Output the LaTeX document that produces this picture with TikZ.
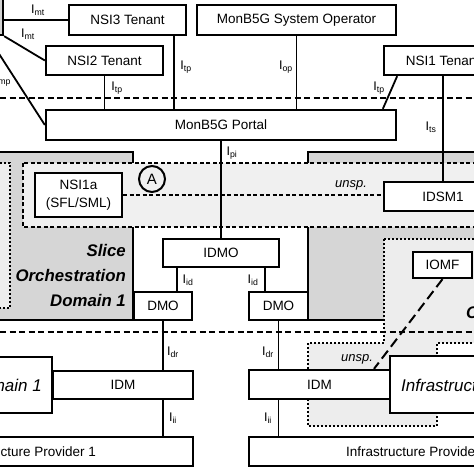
\documentclass[tikz,border=0pt]{standalone}
\usepackage{fontspec}
\setmainfont{Liberation Sans}
\newcommand\Isub[1]{I\textsubscript{#1}}
\definecolor{domgray}{gray}{0.84}
\definecolor{nsiA}{gray}{0.94}
\definecolor{nsiB}{gray}{0.93}
\begin{document}
\begin{tikzpicture}[x=1pt,y=-1pt,
  box/.style={draw, line width=2.3pt, fill=white, inner sep=0pt, font=\fontsize{13.5}{16}\selectfont},
  conn/.style={line width=1.8pt},
  lbl/.style={inner sep=0pt, font=\fontsize{12.5}{13}\selectfont},
  sepline/.style={line width=1.8pt, dash pattern=on 6pt off 3.5pt},
  dashA/.style={line width=1.8pt, dash pattern=on 4pt off 2.5pt},
  dotB/.style={line width=1.8pt, dash pattern=on 2pt off 2pt},
  longdash/.style={line width=2pt, dash pattern=on 10pt off 5pt},
  domline/.style={line width=2.3pt},
  ital/.style={font=\fontsize{17}{20}\selectfont\itshape, inner sep=0pt},
  unsp/.style={inner sep=0pt, font=\fontsize{13}{14}\selectfont\itshape},
]
\useasboundingbox (0,0) rectangle (474,474);
\clip (0,0) rectangle (474,474);
\fill[white] (0,0) rectangle (474,474);

% orchestration domains (gray)
\draw[domline, fill=domgray] (-20,152) -- (133,152) -- (133,320) -- (-20,320);
\draw[domline, fill=domgray] (540,152) -- (308,152) -- (308,320) -- (540,320);

% NSI regions
\draw[dashA, fill=nsiA] (23,163) rectangle (540,227);
\draw[dotB, fill=nsiB] (-20,163) rectangle (10,308);
\draw[dotB, fill=nsiB] (384,239) -- (540,239) -- (540,343) -- (437,343) -- (437,426)
  -- (308,426) -- (308,343) -- (384,343) -- cycle;

% level separators
\coordinate (sepL1) at (0,98);  \coordinate (sepR1) at (474,98);
\coordinate (sepL2) at (0,332); \coordinate (sepR2) at (474,332);
\draw[sepline] (sepL1) -- (sepR1);
\draw[sepline] (sepL2) -- (sepR2);

% boxes
\node[box, fill=gray!35, minimum width=60pt, minimum height=45pt] (tl) at (-27,12.5) {};
\node[box, minimum width=117pt, minimum height=30pt] (nsi3) at (127.5,20) {NSI3 Tenant};
\node[box, minimum width=199pt, minimum height=30pt] (op) at (296.5,20) {MonB5G System Operator};
\node[box, minimum width=117pt, minimum height=29pt] (nsi2) at (104.5,60.5) {NSI2 Tenant};
\node[box, minimum width=118pt, minimum height=29pt] (nsi1) at (443,60.5) {NSI1 Tenant};
\node[box, minimum width=350pt, minimum height=30pt] (portal) at (221,125) {MonB5G Portal};
\node[box, minimum width=87pt, minimum height=44pt, align=center] (nsi1a) at (78.5,195) {NSI1a\\[2pt](SFL/SML)};
\node[box, minimum width=118pt, minimum height=29pt] (idsm) at (443,196.5) {IDSM1};
\node[box, minimum width=116pt, minimum height=28pt] (idmo) at (221,253) {IDMO};
\node[box, minimum width=58pt, minimum height=28pt] (dmol) at (163,306) {DMO};
\node[box, minimum width=59pt, minimum height=28pt] (dmor) at (278.5,306) {DMO};
\node[box, minimum width=59pt, minimum height=26pt] (iomf) at (442.5,265) {IOMF};
\node[box, minimum width=202pt, minimum height=56pt] (infd1) at (-49,385) {};
\node[box, minimum width=210pt, minimum height=57pt] (infd2) at (495,384.5) {};
\node[box, minimum width=140pt, minimum height=28pt] (idml) at (123,385) {IDM};
\node[box, minimum width=141pt, minimum height=29pt] (idmr) at (319.5,384.5) {IDM};
\node[box, minimum width=339pt, minimum height=29pt] (prov1) at (23.5,451.5) {Infrastructure Provider 1};
\node[box, minimum width=339pt, minimum height=29pt] (prov2) at (418.5,451.5) {Infrastructure Provider 2};

\node[ital, anchor=east] (infd1t) at (42,385) {Infrastructure Domain 1};
\node[ital, anchor=west] (infd2t) at (401,385) {Infrastructure Domain 2};
\node[anchor=east, align=right, inner sep=0pt, font=\fontsize{16.8}{25}\selectfont\bfseries\itshape] (sod1) at (126,275) {Slice\\Orchestration\\Domain 1};
\node[anchor=west, inner sep=0pt, font=\fontsize{16.8}{20}\selectfont\bfseries\itshape] (sod2) at (466,313) {C};

\node[draw, circle, line width=2pt, minimum size=26pt, inner sep=0pt, font=\fontsize{15}{16}\selectfont] (cA) at (152,179) {A};

% helper coordinates
\coordinate (x174) at (174,0);
\coordinate (x177) at (177,0);
\coordinate (x265) at (265,0);
\coordinate (x374) at (374,0);
\coordinate (mpstart) at (-10,39.8);

% connectors
\draw[conn] (nsi3.west -| tl.east) -- (nsi3.west);
\draw[conn] (tl.south east) -- (nsi2.west);
\draw[conn] (mpstart) -- (portal.west);
\draw[conn] (nsi3.south -| x174) -- (portal.north -| x174);
\draw[conn] (nsi2.south) -- (nsi2.south |- portal.north);
\draw[conn] (op.south) -- (op.south |- portal.north);
\draw[conn] (nsi1.south -| portal.east) -- (portal.north -| nsi1.west);
\draw[conn] (nsi1.south -| idsm.north) -- (idsm.north);
\draw[conn] (portal.south) -- (idmo.north);
\draw[conn] (idmo.south -| x177) -- (dmol.north -| x177);
\draw[conn] (idmo.south -| x265) -- (dmor.north -| x265);
\draw[conn] (dmol.south) -- (idml.north -| dmol.south);
\draw[conn] (idml.south -| dmol.south) -- (prov1.north -| dmol.south);
\draw[conn] (dmor.south) -- (idmr.north -| dmor.south);
\draw[conn] (idmr.south -| dmor.south) -- (prov2.north -| dmor.south);
\draw[dashA] (nsi1a.east) -- (nsi1a.east -| idsm.west);
\draw[longdash] (iomf.south) -- (idmr.north -| x374);

% labels
\node[lbl] (l1) at (38,10) {\Isub{mt}};
\node[lbl] (l2) at (28,34) {\Isub{mt}};
\node[lbl] (l3) at (3,80) {\Isub{mp}};
\node[lbl] (l4) at (186,67) {\Isub{tp}};
\node[lbl] (l5) at (117,88) {\Isub{tp}};
\node[lbl] (l6) at (286,67) {\Isub{op}};
\node[lbl] (l7) at (379,88) {\Isub{tp}};
\node[lbl] (l8) at (431,127) {\Isub{ts}};
\node[lbl] (l9) at (232,153) {\Isub{pi}};
\node[lbl] (l10) at (188,280) {\Isub{id}};
\node[lbl] (l11) at (253,280) {\Isub{id}};
\node[lbl] (l12) at (173,352) {\Isub{dr}};
\node[lbl] (l13) at (173,418) {\Isub{ii}};
\node[lbl] (l14) at (268,352) {\Isub{dr}};
\node[lbl] (l15) at (268,418) {\Isub{ii}};
\node[unsp] (u1) at (351,185) {unsp.};
\node[unsp] (u2) at (357,359) {unsp.};
\end{tikzpicture}
\end{document}
